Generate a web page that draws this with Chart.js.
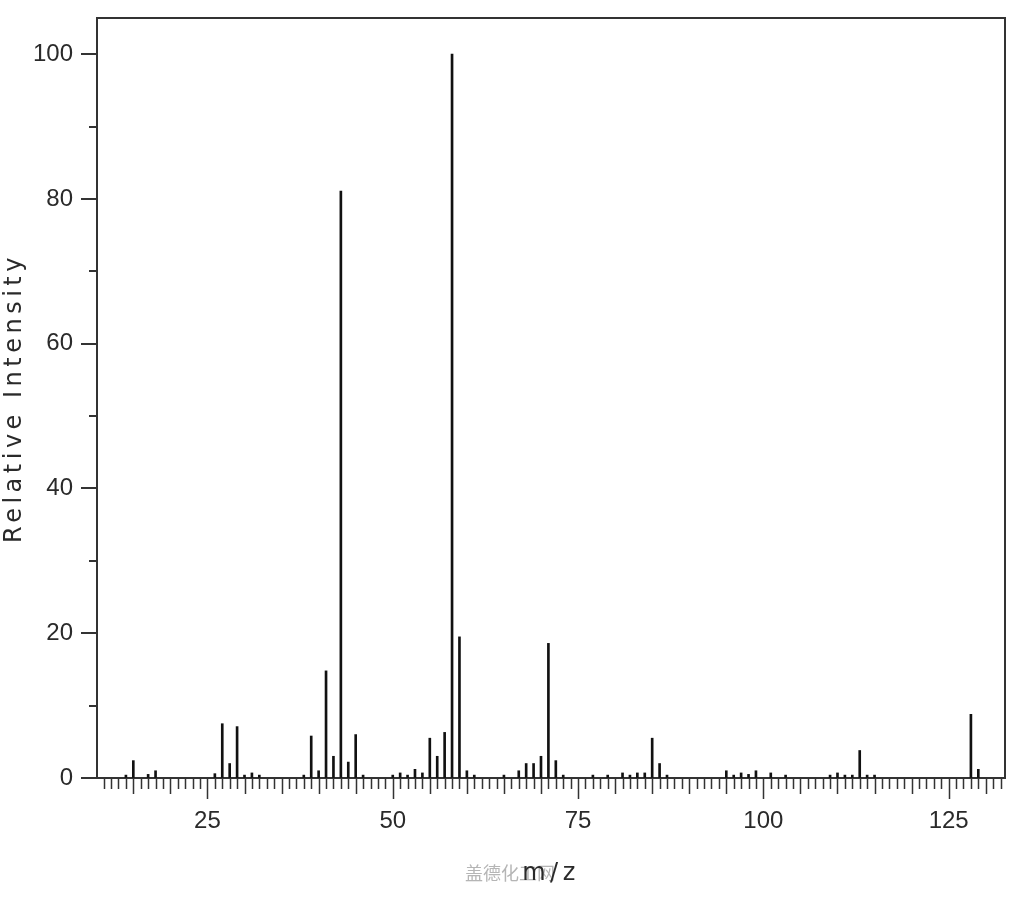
<!DOCTYPE html>
<html>
<head>
<meta charset="utf-8">
<script src="https://cdn.jsdelivr.net/npm/chart.js@4.4.1/dist/chart.umd.min.js"></script>
<style>
  html, body { margin: 0; padding: 0; background: #fff; }
  #wrap { width: 1024px; height: 900px; position: relative; }
</style>
</head>
<body>
<div id="wrap"><canvas id="chart"></canvas></div>
<script>
// mass spectrum peaks (m/z, relative intensity)
const mzValues = [14, 15, 17, 18, 26, 27, 28, 29, 30, 31, 32, 38, 39, 40, 41, 42, 43, 44, 45, 46,
  50, 51, 52, 53, 54, 55, 56, 57, 58, 59, 60, 61, 65, 67, 68, 69, 70, 71, 72, 73,
  77, 79, 81, 82, 83, 84, 85, 86, 87, 95, 96, 97, 98, 99, 101, 103,
  109, 110, 111, 112, 113, 114, 115, 128, 129];
const intensities = [0.4, 2.4, 0.5, 1.0, 0.6, 7.5, 2.0, 7.1, 0.4, 0.7, 0.4, 0.4, 5.8, 1.0, 14.8, 3.0, 81.1, 2.2, 6.0, 0.4,
  0.4, 0.7, 0.4, 1.2, 0.7, 5.5, 3.0, 6.3, 100, 19.5, 1.0, 0.4, 0.4, 1.0, 2.0, 2.0, 3.0, 18.6, 2.4, 0.4,
  0.4, 0.4, 0.7, 0.4, 0.7, 0.7, 5.5, 2.0, 0.4, 1.0, 0.4, 0.7, 0.5, 1.0, 0.7, 0.4,
  0.4, 0.7, 0.4, 0.4, 3.8, 0.4, 0.4, 8.8, 1.2];
const xTickLabels = [25, 50, 75, 100, 125];
const yTickLabels = [0, 20, 40, 60, 80, 100];

const axisColor = '#333';
const textColor = '#2a2a2a';
const tickFont = { family: 'Liberation Sans', size: 24 };

// tick marks of different lengths, plus the top/right frame
const frameTicks = {
  id: 'frameTicks',
  beforeDraw(chart) {
    const ctx = chart.ctx;
    ctx.save();
    ctx.fillStyle = '#b5b5b5';
    ctx.font = '18px "Noto Sans CJK SC"';
    ctx.textAlign = 'center';
    ctx.textBaseline = 'middle';
    ctx.fillText('盖德化工网', 510, 873);
    ctx.restore();
    ctx.letterSpacing = '4.5px';
  },
  beforeDatasetsDraw(chart) {
    chart.ctx.letterSpacing = '0px';
  },
  afterDraw(chart) {
    const ctx = chart.ctx;
    const { left, right, top, bottom } = chart.chartArea;
    const xs = chart.scales.x;
    const ys = chart.scales.y;
    ctx.save();
    ctx.strokeStyle = axisColor;
    ctx.lineWidth = 2;
    ctx.beginPath();
    ctx.moveTo(left, top);
    ctx.lineTo(right, top);
    ctx.lineTo(right, bottom);
    ctx.stroke();

    ctx.lineWidth = 1.5;
    ctx.beginPath();
    for (let m = Math.ceil(xs.min); m <= Math.floor(xs.max); m++) {
      const px = Math.round(xs.getPixelForValue(m)) + 0.5;
      const len = m % 25 === 0 ? 21 : (m % 5 === 0 ? 16 : 11);
      ctx.moveTo(px, bottom);
      ctx.lineTo(px, bottom + len);
    }
    ctx.stroke();

    ctx.lineWidth = 2;
    ctx.beginPath();
    for (let v = 0; v <= 100; v += 10) {
      const py = Math.round(ys.getPixelForValue(v));
      const len = v % 20 === 0 ? 16 : 8;
      ctx.moveTo(left, py);
      ctx.lineTo(left - len, py);
    }
    ctx.stroke();
    ctx.restore();
    ctx.letterSpacing = '0px';
  }
};

new Chart(document.getElementById('chart'), {
  type: 'bar',
  data: {
    datasets: [{
      data: mzValues.map((m, i) => ({ x: m, y: intensities[i] })),
      backgroundColor: '#111',
      barThickness: 2
    }]
  },
  options: {
    responsive: true,
    maintainAspectRatio: false,
    animation: false,
    layout: { padding: { left: 0, right: 19, top: 18, bottom: 0 } },
    plugins: { legend: { display: false }, tooltip: { enabled: false } },
    scales: {
      x: {
        type: 'linear',
        offset: false,
        min: 10.1,
        max: 132.6,
        afterFit: s => { s.height = 122; s.paddingLeft = 0; s.paddingRight = 0; },
        grid: { drawOnChartArea: false, drawTicks: true, tickLength: 16, color: 'transparent' },
        border: { display: true, color: axisColor, width: 2 },
        ticks: {
          z: 1,
          stepSize: 25,
          includeBounds: false,
          padding: 13,
          color: textColor,
          font: tickFont,
          maxRotation: 0,
          callback: v => (xTickLabels.includes(v) ? String(v) : '')
        },
        title: {
          display: true,
          text: 'm/z',
          color: textColor,
          font: { family: 'DejaVu Sans', size: 24 },
          padding: { top: 0, bottom: 12 }
        }
      },
      y: {
        min: 0,
        max: 105,
        afterFit: s => { s.width = 97; s.paddingTop = 0; s.paddingBottom = 0; },
        grid: { drawOnChartArea: false, drawTicks: true, tickLength: 16, color: 'transparent' },
        border: { display: true, color: axisColor, width: 2 },
        ticks: {
          z: 1,
          stepSize: 20,
          includeBounds: false,
          padding: 8,
          color: textColor,
          font: tickFont,
          callback: v => (yTickLabels.includes(v) ? String(v) : '')
        },
        title: {
          display: true,
          text: 'Relative Intensity',
          color: textColor,
          font: { family: 'DejaVu Sans', size: 24 },
          padding: { top: 0, bottom: 0 }
        }
      }
    }
  },
  plugins: [frameTicks]
});
</script>
</body>
</html>
